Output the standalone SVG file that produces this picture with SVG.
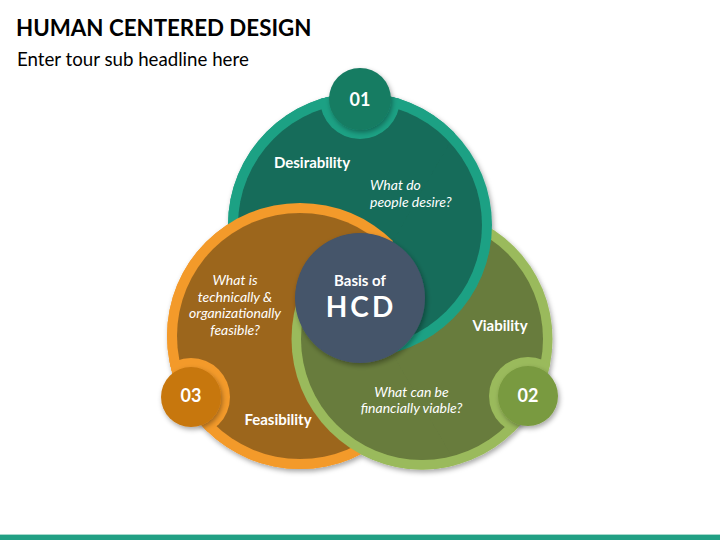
<svg xmlns="http://www.w3.org/2000/svg" xmlns:xlink="http://www.w3.org/1999/xlink" width="720" height="540" viewBox="0 0 720 540">
<style>
.title{font-family:Lato,"Open Sans","Liberation Sans",sans-serif;font-weight:700;font-size:22.3px;fill:#000}
.sub{font-family:Lato,"Open Sans","Liberation Sans",sans-serif;font-size:18.7px;fill:#000}
.lbl{font-family:Lato,"Open Sans","Liberation Sans",sans-serif;font-weight:700;font-size:15px;fill:#fff;text-anchor:middle}
.it{font-family:Lato,"Open Sans","Liberation Sans",sans-serif;font-style:italic;font-size:14px;fill:#fff}
.num{font-family:Lato,"Open Sans","Liberation Sans",sans-serif;font-weight:700;font-size:18px;fill:#fff;text-anchor:middle}
</style>
<defs>
<filter id="sh" x="-20%" y="-20%" width="140%" height="140%">
<feDropShadow dx="1.5" dy="2.5" stdDeviation="2.5" flood-color="#000" flood-opacity="0.35"/>
</filter>
<clipPath id="clTealC"><circle cx="360" cy="225" r="132"/></clipPath>
<clipPath id="clOrangeC"><circle cx="300" cy="336" r="133"/></clipPath>
<clipPath id="clOliveC"><circle cx="422" cy="339" r="130.5"/></clipPath>
<g id="cTeal">
<circle cx="360" cy="225" r="132" fill="#1fa184"/>
<circle cx="360" cy="225" r="122" fill="#176c5a"/>
<circle cx="360" cy="99" r="40" fill="#1fa184" clip-path="url(#clTealC)"/>
</g>
<g id="cOrange">
<circle cx="300" cy="336" r="133" fill="#f39a2b"/>
<circle cx="300" cy="336" r="123" fill="#9c661f"/>
<circle cx="191" cy="397" r="39" fill="#f39a2b" clip-path="url(#clOrangeC)"/>
</g>
<g id="cOlive">
<circle cx="422" cy="339" r="130.5" fill="#9aba5b"/>
<circle cx="422" cy="339" r="121" fill="#677b3d"/>
<circle cx="528" cy="396" r="39" fill="#9aba5b" clip-path="url(#clOliveC)"/>
</g>
<mask id="secOlive" maskUnits="userSpaceOnUse" x="0" y="0" width="720" height="540"><rect width="720" height="540" fill="#000"/><polygon points="360,298 860,1164 -1000,1164 -1000,298" fill="#fff"/></mask>
<mask id="secOrange" maskUnits="userSpaceOnUse" x="0" y="0" width="720" height="540"><rect width="720" height="540" fill="#000"/><polygon points="360,298 -1000,298 -1000,-568 860,-568" fill="#fff"/></mask>
</defs>
<rect width="720" height="540" fill="#fff"/>
<text class="title" x="16" y="36">HUMAN CENTERED DESIGN</text>
<text class="sub" x="17" y="66">Enter tour sub headline here</text>
<g id="circles" filter="url(#sh)">
<g><use xlink:href="#cOrange"/><use xlink:href="#cOlive"/><use xlink:href="#cTeal"/></g>
<g mask="url(#secOlive)"><use xlink:href="#cTeal"/><use xlink:href="#cOrange"/><use xlink:href="#cOlive"/></g>
<g mask="url(#secOrange)"><use xlink:href="#cOlive"/><use xlink:href="#cTeal"/><use xlink:href="#cOrange"/></g>
</g>
<g id="node-desirability">
<circle cx="360" cy="99" r="31" fill="#187b62" filter="url(#sh)"/>
<text class="num" x="360" y="106">01</text>
<text class="lbl" x="312" y="168">Desirability</text>
<text class="it" x="370" y="190">What do</text>
<text class="it" x="370" y="207">people desire?</text>
</g>
<g id="node-viability">
<circle cx="528" cy="396" r="30" fill="#799a3f" filter="url(#sh)"/>
<text class="num" x="528" y="402">02</text>
<text class="lbl" x="500" y="331">Viability</text>
<text class="it" x="411.5" y="397" text-anchor="middle">What can be</text>
<text class="it" x="411.5" y="413" text-anchor="middle">financially viable?</text>
</g>
<g id="node-feasibility">
<circle cx="191" cy="397" r="30" fill="#c7770e" filter="url(#sh)"/>
<text class="num" x="191" y="402">03</text>
<text class="lbl" x="278" y="425">Feasibility</text>
<text class="it" x="235" y="285" text-anchor="middle">What is</text>
<text class="it" x="235" y="302" text-anchor="middle">technically &amp;</text>
<text class="it" x="235" y="318" text-anchor="middle">organizationally</text>
<text class="it" x="235" y="335" text-anchor="middle">feasible?</text>
</g>
<g id="node-hcd">
<circle cx="360" cy="298" r="65" fill="#44546a" filter="url(#sh)"/>
<text class="lbl" x="360" y="286">Basis of</text>
<text class="lbl" x="361" y="317" style="font-size:28px;letter-spacing:3px">HCD</text>
</g>
<rect x="0" y="534" width="720" height="1" fill="#a6d9cc"/>
<rect x="0" y="535" width="720" height="5" fill="#22a084"/>
</svg>
